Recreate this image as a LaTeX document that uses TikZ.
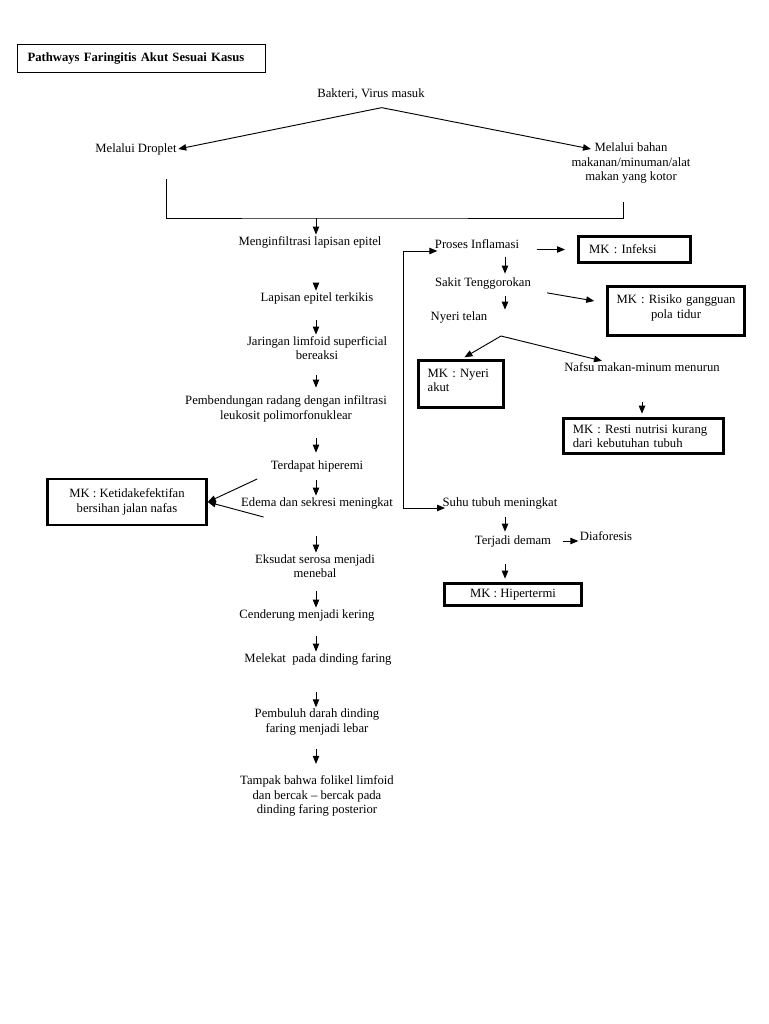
\documentclass[tikz,border=0pt]{standalone}
\usepackage{fontspec}
\setmainfont{Liberation Serif}
\usetikzlibrary{arrows.meta}

\begin{document}
\begin{tikzpicture}[x=0.75pt,y=-0.75pt,
    every node/.style={font=\fontsize{9.5}{11}\selectfont, inner sep=1pt, align=center},
    line/.style={line width=0.7pt},
    arr/.style={line width=0.7pt,-{Triangle[length=6pt,width=4.8pt]}},
    mk/.style={draw, line width=2.2pt},
    titlebox/.style={draw, line width=0.8pt, anchor=north west, align=left, font=\fontsize{9.5}{11}\selectfont\bfseries}]

    % the page
    \fill[white] (0,0) rectangle (768,1024);
    \useasboundingbox (0,0) rectangle (768,1024);

    % the title
    \node[titlebox, minimum width=186pt, minimum height=21pt, text width=171pt, inner xsep=7.5pt] (title) at (17,44) {Pathways Faringitis Akut Sesuai Kasus};

    % the ways in
    \node (bakteri) at (371,94) {Bakteri, Virus masuk};
    \node (droplet) at (136,149) {Melalui Droplet};
    \node (bahan) at (631,163) {Melalui bahan\\makanan/minuman/alat\\makan yang kotor};
    \coordinate (apex) at ([xshift=8pt,yshift=-5pt]bakteri.south);
    \coordinate (tipR) at (591,149);
    \draw[arr] (apex) -- (droplet.east);
    \draw[arr] (apex) -- (tipR);
    \coordinate (bl) at (166,179);
    \coordinate (br) at (623,202);
    \coordinate (merge) at (316,218);
    \draw[line] (bl) |- (merge) -| (br);

    % the left column
    \coordinate (spine) at (316,0);
    \node (infil) at (310,242) {Menginfiltrasi lapisan epitel};
    \node (terkikis) at (317,298) {Lapisan epitel terkikis};
    \node (limfoid) at (317,348) {Jaringan limfoid superficial\\bereaksi};
    \node (bendung) at (286,409) {Pembendungan radang dengan infiltrasi\\leukosit polimorfonuklear};
    \node (hiper) at (317,466) {Terdapat hiperemi};
    \node (edema) at (317,503) {Edema dan sekresi meningkat};
    \node (eksudat) at (315,566) {Eksudat serosa menjadi\\menebal};
    \node (kering) at (307,615) {Cenderung menjadi kering};
    \node (melekat) at (318,659) {Melekat \ pada dinding faring};
    \node (pembuluh) at (317,722) {Pembuluh darah dinding\\faring menjadi lebar};
    \node (tampak) at (317,796) {Tampak bahwa folikel limfoid\\dan bercak -- bercak pada\\dinding faring posterior};

    \draw[arr] (merge) -- (merge |- infil.north);
    \draw[arr, shorten <=25pt] (infil.south -| spine) -- (terkikis.north -| spine);
    \draw[arr, shorten <=11pt] (terkikis.south -| spine) -- (limfoid.north -| spine);
    \draw[arr, shorten <=10pt, shorten >=5pt] (limfoid.south -| spine) -- (bendung.north -| spine);
    \draw[arr, shorten <=11pt, shorten >=4.5pt] (bendung.south -| spine) -- (hiper.north -| spine);
    \draw[arr, shorten <=5pt] (hiper.south -| spine) -- (edema.north -| spine);
    \draw[arr, shorten <=19pt] (edema.south -| spine) -- (eksudat.north -| spine);
    \draw[arr, shorten <=9pt] (eksudat.south -| spine) -- (kering.north -| spine);
    \draw[arr, shorten <=10pt] (kering.south -| spine) -- (melekat.north -| spine);
    \draw[arr, shorten <=19.5pt] (melekat.south -| spine) -- (pembuluh.north -| spine);
    \draw[arr, shorten <=9pt, shorten >=7.5pt] (pembuluh.south -| spine) -- (tampak.north -| spine);

    % airway box
    \node[mk, minimum width=119pt, minimum height=34.5pt] (ketidak) at (127,502) {MK : Ketidakefektifan\\bersihan jalan nafas};
    \draw[arr, shorten <=10pt] (hiper.south west) -- (ketidak.east);
    \draw[arr] ([xshift=18pt,yshift=-5pt]edema.south west) -- (ketidak.east);

    % the right column
    \coordinate (bustop) at (403,251);
    \coordinate (busbot) at (403,508);
    \coordinate (rspine) at (505,0);
    \node (infl) at (477,244) {Proses Inflamasi};
    \node (suhu) at (500,503) {Suhu tubuh meningkat};
    \draw[line] (bustop) -- (busbot);
    \draw[arr, shorten >=-3pt] (bustop) -- (bustop -| infl.west);
    \draw[arr, shorten >=-3pt] (busbot) -- (busbot -| suhu.west);

    \node[mk, minimum width=84pt, minimum height=19.5pt, text width=68pt, inner xsep=8pt, align=left] (infeksi) at (634.5,249.5) {MK : Infeksi};
    \draw[arr, shorten <=12pt, shorten >=9pt] (infl.east |- infeksi.west) -- (infeksi.west);

    \node (sakit) at (483,283) {Sakit Tenggorokan};
    \draw[arr, shorten <=5pt, shorten >=1.5pt] (infl.south -| rspine) -- (sakit.north -| rspine);
    \node[mk, minimum width=102.75pt, inner ysep=6pt, text depth=18pt, text width=100pt] (risiko) at (676,311) {MK : Risiko gangguan\\pola tidur};
    \draw[arr, shorten <=11pt, shorten >=9pt] (sakit.south east) -- ([yshift=6pt]risiko.west);

    \node (nyeri) at (459,317) {Nyeri telan};
    \draw[arr, shorten <=4pt] (sakit.south -| rspine) -- (nyeri.north -| rspine);
    \coordinate (nsplit) at (501,336);
    \node[mk, minimum width=63.75pt, inner ysep=6pt, text depth=16.5pt, text width=50pt, inner xsep=7pt, align=left] (nyeriakut) at (461,384) {MK : Nyeri\\akut};
    \draw[arr, shorten >=3pt] (nsplit) -- (nyeriakut.north);
    \node (nafsu) at (642,367) {Nafsu makan-minum menurun};
    \draw[arr] (nsplit) -- ([xshift=-30pt]nafsu.north);
    \node[mk, minimum width=118.5pt, minimum height=26.25pt, text width=106pt, inner xsep=7pt, align=left] (resti) at (643.5,436) {MK : Resti nutrisi kurang\\dari kebutuhan tubuh};
    \draw[arr, shorten <=22pt, shorten >=2.5pt] (nafsu.south) -- (nafsu.south |- resti.north);

    % fever branch
    \node (demam) at (513,541) {Terjadi demam};
    \draw[arr, shorten <=5pt, shorten >=1.5pt] (suhu.south -| rspine) -- (demam.north -| rspine);
    \node (diaf) at (606,536) {Diaforesis};
    \draw[arr, shorten <=7.5pt] (demam.east) -- (demam.east -| diaf.west);
    \node[mk, minimum width=102.75pt, minimum height=16.5pt] (hipert) at (513,594.5) {MK : Hipertermi};
    \draw[arr, shorten <=12pt, shorten >=2.5pt] (demam.south -| rspine) -- (hipert.north -| rspine);
\end{tikzpicture}
\end{document}
